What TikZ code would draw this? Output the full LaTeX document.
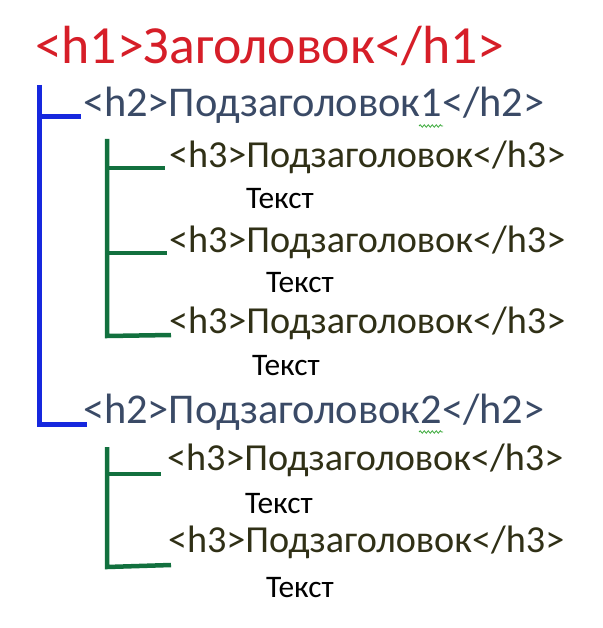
\documentclass[tikz,border=0pt]{standalone}
\usepackage{fontspec}
\setmainfont{Carlito}
\usetikzlibrary{decorations.pathmorphing,calc}
\definecolor{hred}{RGB}{214,30,40}
\definecolor{htwo}{RGB}{58,74,102}
\definecolor{hthree}{RGB}{48,48,22}
\definecolor{bblue}{RGB}{22,40,222}
\definecolor{bgreen}{RGB}{18,112,62}
\definecolor{squig}{RGB}{60,170,60}
\tikzset{
  txt/.style={anchor=base west,inner sep=0pt,outer sep=0pt},
  hone/.style={txt,text=hred,font=\fontsize{53.7}{60}\selectfont},
  htwostyle/.style={txt,text=htwo,font=\fontsize{42.4}{50}\selectfont},
  hthreestyle/.style={txt,text=hthree,font=\fontsize{38.2}{44}\selectfont},
  body/.style={txt,text=black,font=\fontsize{31.4}{36}\selectfont},
  bluebr/.style={draw=bblue,line width=5pt},
  greenbr/.style={draw=bgreen,line width=4.5pt},
  wavy/.style={draw=squig,line width=0.8pt,decorate,decoration={snake,amplitude=1.2pt,segment length=4pt}}
}
\begin{document}
\begin{tikzpicture}[x=1pt,y=-1pt]
\useasboundingbox[fill=white] (0,0) rectangle (602,628);
% texts
\node[hone] (h1) at (35,64) {<h1>Заголовок</h1>};
\node[htwostyle] (h2a) at (83,117) {<h2>Подзаголовок1</h2>};
\node[hthreestyle] (h3a) at (169,168) {<h3>Подзаголовок</h3>};
\node[body] (t1) at (246,208) {Текст};
\node[hthreestyle] (h3b) at (169,252) {<h3>Подзаголовок</h3>};
\node[body] (t2) at (266,292) {Текст};
\node[hthreestyle] (h3c) at (169,333) {<h3>Подзаголовок</h3>};
\node[body] (t3) at (252,375) {Текст};
\node[htwostyle] (h2b) at (83,423) {<h2>Подзаголовок2</h2>};
\node[hthreestyle] (h3d) at (167,470) {<h3>Подзаголовок</h3>};
\node[body] (t4) at (245,513) {Текст};
\node[hthreestyle] (h3e) at (168,552) {<h3>Подзаголовок</h3>};
\node[body] (t5) at (266,597) {Текст};
% squiggles
\draw[wavy] ($(h2a.base west)+(336,9)$) -- ++(24,0);
\draw[wavy] ($(h2b.base west)+(336,9)$) -- ++(24,0);
% blue bracket
\coordinate (bt) at (39,85);
\coordinate (b1) at (39,117);
\coordinate (b2) at (39,424);
\draw[bluebr] (bt) -- (b2) -- (87,424);
\draw[bluebr] (b1) -- (81,117);
% green bracket 1
\coordinate (g1t) at (107,139);
\coordinate (g1a) at (107,168);
\coordinate (g1b) at (107,253);
\coordinate (g1c) at (107,336);
\draw[greenbr] (g1t) -- (g1c) -- (171,335);
\draw[greenbr] (g1a) -- (165,168);
\draw[greenbr] (g1b) -- (167,253);
% green bracket 2
\coordinate (g2t) at (107,447);
\coordinate (g2a) at (107,474);
\coordinate (g2c) at (107,567);
\draw[greenbr] (g2t) -- (g2c) -- (171,565);
\draw[greenbr] (g2a) -- (161,474);
\end{tikzpicture}
\end{document}
